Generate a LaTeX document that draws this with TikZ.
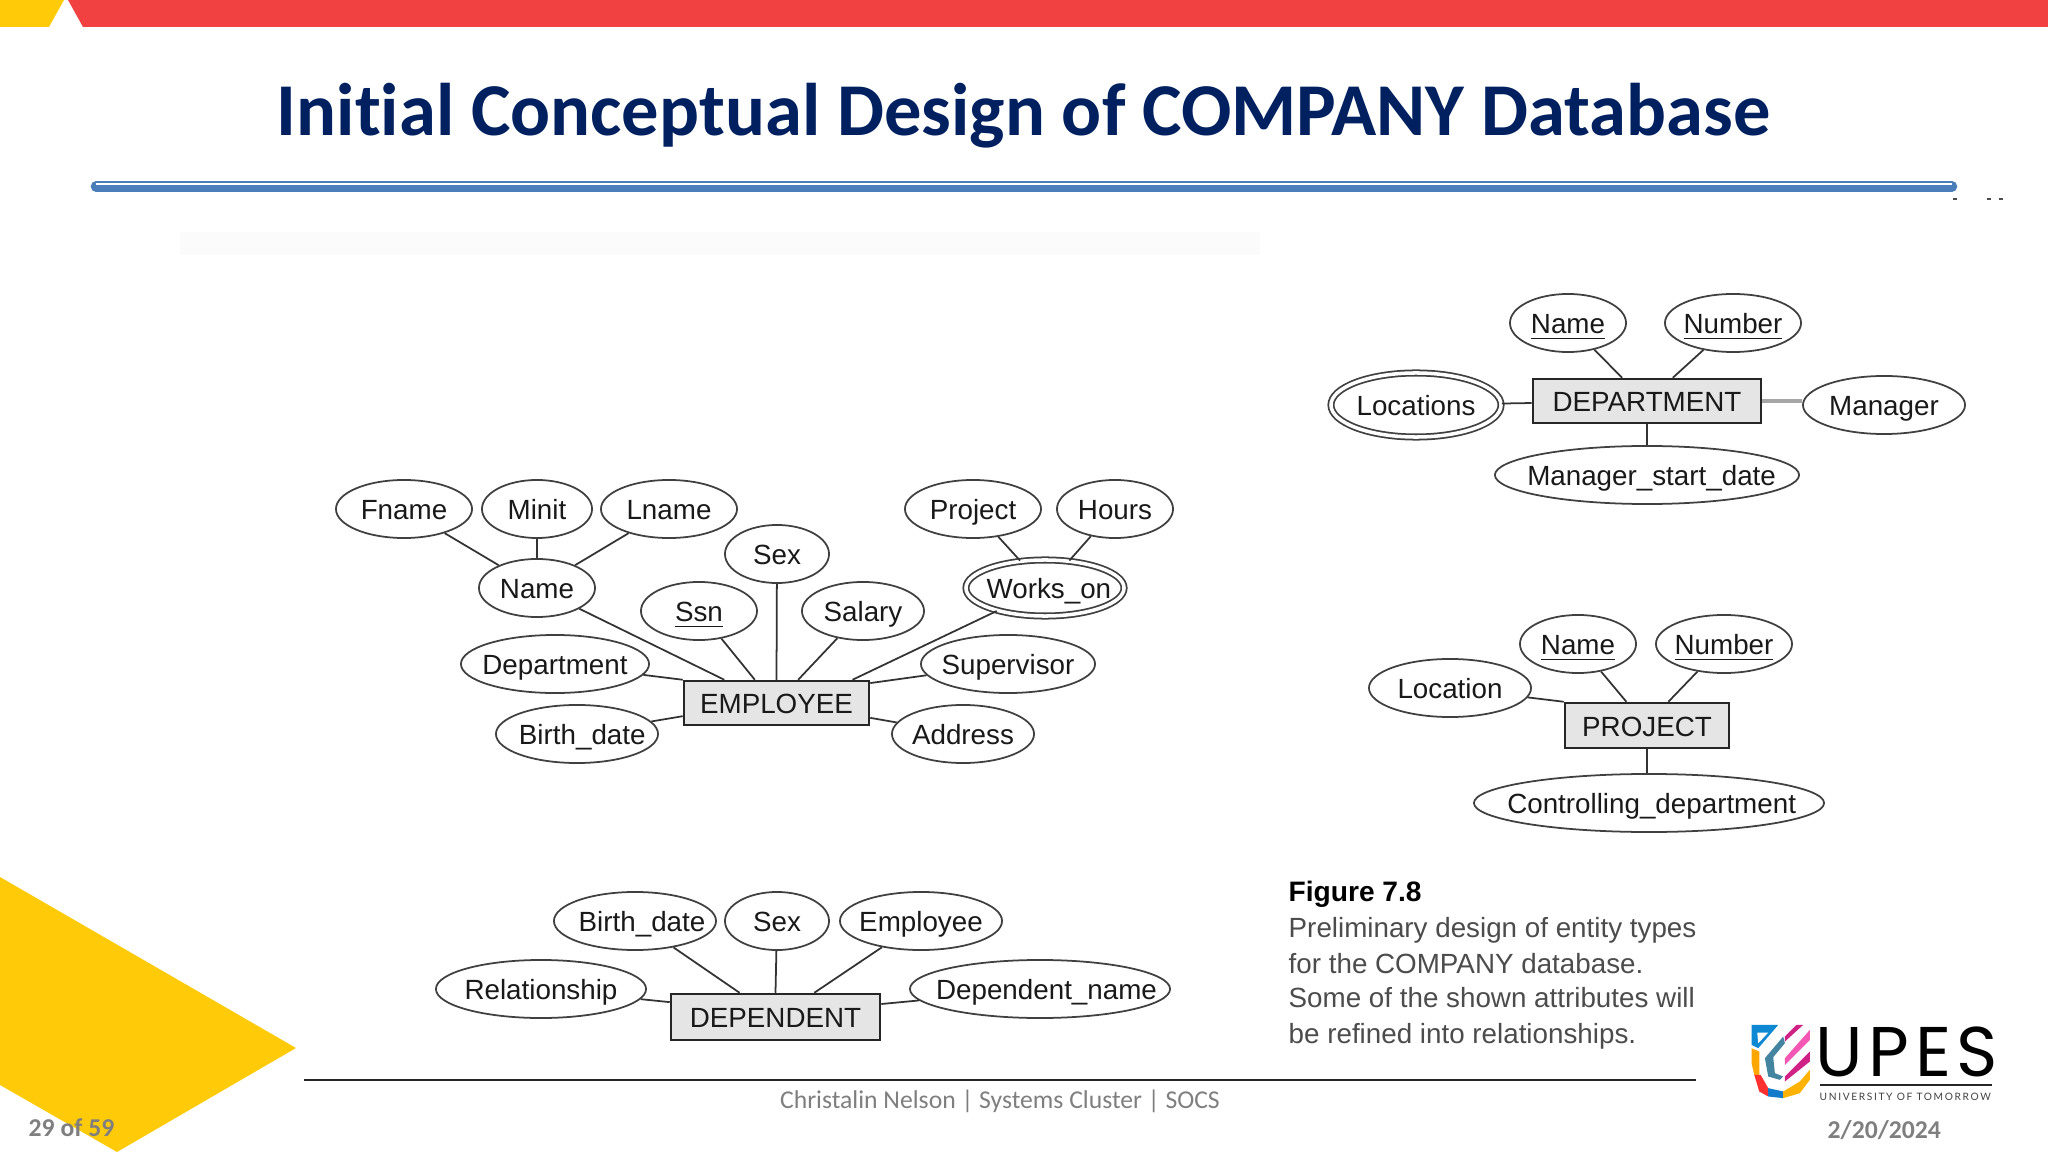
\documentclass[tikz,border=0pt]{standalone}
\usepackage{xcolor}
\usepackage{fontspec}
\usepackage{tikz}
\usetikzlibrary{shapes.geometric, positioning, calc}
\setmainfont{Liberation Sans}
\newfontfamily\carlitofont[Ligatures=CommonOff]{Carlito}
\newfontfamily\upesfont[LetterSpace=8]{Poppins}
\newfontfamily\tagfont[LetterSpace=16]{Lato}
\newcommand{\nowidth}[2][0pt]{\makebox[0pt]{\hspace{#1}#2}}
\definecolor{slidered}{RGB}{242, 65, 65}
\definecolor{slideyellow}{RGB}{255, 203, 8}
\definecolor{slidenavy}{RGB}{0, 32, 96}
\definecolor{ruleblue}{RGB}{74, 126, 187}
\definecolor{footgray}{RGB}{127, 127, 127}
\tikzset{
    attr/.style={ellipse, draw=black!75, fill=white, line width=0.5pt, inner sep=0pt, minimum height=0.58cm, text height=6pt, text depth=0pt, text=black!90, font=\fontsize{7.9}{9}\selectfont},
    multi/.style={attr, double, double distance=1pt},
    entity/.style={rectangle, draw=black!85, fill=black!10, line width=0.7pt, inner sep=0pt, text height=6pt, text depth=0pt, text=black!90, font=\fontsize{7.9}{9}\selectfont},
    link/.style={draw=black!80, line width=0.5pt},
    caption/.style={anchor=west, inner sep=0pt, text height=6pt, text depth=0pt, text=black!70, font=\fontsize{7.9}{9}\selectfont},
    foot/.style={inner sep=0pt, text=footgray}
}
\begin{document}
\begin{tikzpicture}[x=0.01cm, y=-0.01cm]
    \useasboundingbox (0,0) rectangle (2048,1152);
    \fill[white] (0,0) rectangle (2048,1152);

    % slide furniture
    \fill[slideyellow] (0,0) -- (64,0) -- (49,27) -- (0,27) -- cycle;
    \fill[slidered] (68,0) -- (2048,0) -- (2048,27) -- (83,27) -- cycle;
    \fill[slideyellow] (0,877) -- (296,1048) -- (117,1152) -- (0,1085) -- cycle;
    \fill[black!1.5] (180,232) rectangle (1260,255);
    \draw[ruleblue, line width=3pt, line cap=round] (96,186.5) -- (1952,186.5);
    \draw[white, line width=0.6pt] (96,184) -- (1952,184);
    \foreach \markx in {1955, 1989, 2001}
        \fill[black!70] (\markx-2,198) rectangle (\markx+2,200);
    \draw[black!85, line width=0.6pt] (304,1080) -- (1696,1080);

    \node (title) [inner sep=0pt, text=slidenavy, font=\carlitofont\bfseries\fontsize{21.2}{25}\selectfont] at (1023.5,115.5) {Initial Conceptual Design of COMPANY Database};
    \node (footer) [foot, font=\carlitofont\fontsize{7.3}{9}\selectfont] at (1000,1101) {Christalin Nelson | Systems Cluster | SOCS};
    \node (pageno) [foot, anchor=west, font=\carlitofont\bfseries\fontsize{7.3}{9}\selectfont] at (28,1128) {29 of 59};
    \node (slidedate) [foot, anchor=west, font=\carlitofont\bfseries\fontsize{7.3}{8}\selectfont] at (1827,1130) {2/20/2024};

    % EMPLOYEE
    \node (employee) [entity, minimum width=1.85cm, minimum height=0.44cm] at (776.5,703) {EMPLOYEE};
    \node (fname) [attr, minimum width=1.36cm] at (404,509) {\nowidth{Fname}};
    \node (minit) [attr, minimum width=1.10cm] at (537,509) {\nowidth{Minit}};
    \node (lname) [attr, minimum width=1.36cm] at (669,509) {\nowidth{Lname}};
    \node (ename) [attr, minimum width=1.16cm] at (537,588) {\nowidth{Name}};
    \node (esex) [attr, minimum width=1.04cm] at (777,554) {\nowidth{Sex}};
    \node (ssn) [attr, minimum width=1.16cm] at (699,611) {\nowidth{\underline{Ssn}}};
    \node (salary) [attr, minimum width=1.22cm] at (863,611) {\nowidth{Salary}};
    \node (eproject) [attr, minimum width=1.36cm] at (973,509) {\nowidth{Project}};
    \node (hours) [attr, minimum width=1.16cm] at (1115,509) {\nowidth{Hours}};
    \node (workson) [multi, minimum width=1.58cm, minimum height=0.56cm] at (1045,588) {\nowidth[2.2pt]{Works\_on}};
    \node (edept) [attr, minimum width=1.88cm] at (555,664) {\nowidth{Department}};
    \node (supervisor) [attr, minimum width=1.74cm] at (1008,664) {\nowidth{Supervisor}};
    \node (ebirth) [attr, minimum width=1.62cm] at (577,734) {\nowidth[3pt]{Birth\_date}};
    \node (address) [attr, minimum width=1.42cm] at (963,734) {\nowidth{Address}};

    \draw [link] (fname) -- (ename);
    \draw [link] (minit) -- (ename);
    \draw [link] (lname) -- (ename);
    \draw [link] (eproject) -- (workson);
    \draw [link] (hours) -- (workson);
    \draw [link] (ename) -- (employee.156);
    \draw [link] (ssn) -- (employee.133);
    \draw [link] (esex) -- (employee.90);
    \draw [link] (salary) -- (employee.47);
    \draw [link] (workson) -- (employee.17);
    \draw [link] (edept) -- (employee.north west);
    \draw [link] (supervisor) -- (employee.12);
    \draw [link] (ebirth) -- (employee.188);
    \draw [link] (address) -- (employee.-9);

    % DEPARTMENT
    \node (department) [entity, minimum width=2.28cm, minimum height=0.44cm] at (1647,401) {DEPARTMENT};
    \node (dname) [attr, minimum width=1.16cm] at (1568,323) {\nowidth{\underline{Name}}};
    \node (dnumber) [attr, minimum width=1.36cm] at (1733,323) {\nowidth{\underline{Number}}};
    \node (locations) [multi, minimum width=1.70cm, minimum height=0.64cm] at (1416,405) {\nowidth{Locations}};
    \node (manager) [attr, minimum width=1.62cm] at (1884,405) {\nowidth{Manager}};
    \node (startdate) [attr, minimum width=3.04cm] at (1647,475) {\nowidth[2.6pt]{Manager\_start\_date}};

    \draw [link] (dname) -- (department.137);
    \draw [link] (dnumber) -- (department.42);
    \draw [link] (locations) -- (department.181);
    \draw [link, draw=black!35, line width=0.9pt] (department.east) -- (department.east -| manager.west);
    \draw [link] (department) -- (startdate);

    % PROJECT
    \node (project) [entity, minimum width=1.64cm, minimum height=0.45cm] at (1647,725.5) {PROJECT};
    \node (pname) [attr, minimum width=1.16cm] at (1578,644) {\nowidth{\underline{Name}}};
    \node (pnumber) [attr, minimum width=1.36cm] at (1724,644) {\nowidth{\underline{Number}}};
    \node (location) [attr, minimum width=1.62cm] at (1450,688) {\nowidth{Location}};
    \node (controlling) [attr, minimum width=3.50cm] at (1649,803) {\nowidth[1.5pt]{Controlling\_department}};

    \draw [link] (pname) -- (project.131);
    \draw [link] (pnumber) -- (project.48);
    \draw [link] (location) -- (project.north west);
    \draw [link] (project.south) -- (project.south |- controlling.north);

    % DEPENDENT
    \node (dependent) [entity, minimum width=2.09cm, minimum height=0.46cm] at (775.5,1017) {DEPENDENT};
    \node (dbirth) [attr, minimum width=1.62cm] at (635,921) {\nowidth[4pt]{Birth\_date}};
    \node (dsex) [attr, minimum width=1.04cm] at (777,921) {\nowidth{Sex}};
    \node (employeeref) [attr, minimum width=1.62cm] at (921,921) {\nowidth{Employee}};
    \node (relationship) [attr, minimum width=2.10cm] at (541,989) {\nowidth{Relationship}};
    \node (dependentname) [attr, minimum width=2.60cm] at (1040,989) {\nowidth[3.7pt]{Dependent\_name}};

    \draw [link] (dbirth) -- (dependent.146);
    \draw [link] (dsex) -- (dependent.90);
    \draw [link] (employeeref) -- (dependent.32);
    \draw [link] (relationship) -- (dependent.172);
    \draw [link] (dependentname) -- (dependent.7);

    % caption
    \node (figlabel) [caption, text=black, font=\bfseries\fontsize{8}{9}\selectfont] at (1288,891) {Figure 7.8};
    \node (capa) [caption] at (1288,927) {Preliminary design of entity types};
    \node (capb) [caption] at (1288,963) {for the COMPANY database.};
    \node (capc) [caption] at (1288,997) {Some of the shown attributes will};
    \node (capd) [caption] at (1288,1033) {be refined into relationships.};

    % logo
    \begin{scope}[shift={(1700,980)}, x=0.00333cm, y=-0.00333cm]
        \fill[cyan!70!blue] (155,135) -- (235,135) -- (175,205) -- (155,195) -- cycle;
        \fill[white] (172,158) -- (205,158) -- (175,190) -- cycle;
        \fill[orange!70!yellow] (155,205) -- (178,215) -- (178,285) -- (163,285) -- (155,250) -- cycle;
        \fill[red!75!pink] (163,285) -- (182,285) -- (205,325) -- (205,350) -- (178,335) -- cycle;
        \fill[cyan!60!blue] (205,325) -- (250,335) -- (250,355) -- (205,350) -- cycle;
        \fill[orange!60!yellow] (250,335) -- (300,305) -- (330,270) -- (330,300) -- (300,340) -- (250,355) -- cycle;
        \fill[cyan!60!black] (195,235) -- (250,170) -- (255,190) -- (220,232) -- (225,280) -- (250,290) -- (240,300) -- (205,290) -- cycle;
        \fill[magenta!85!black] (255,170) -- (290,135) -- (310,135) -- (255,185) -- cycle;
        \fill[magenta!65] (255,235) -- (330,150) -- (330,180) -- (255,255) -- cycle;
        \fill[magenta!85!black] (255,290) -- (330,215) -- (330,245) -- (255,305) -- cycle;
    \end{scope}
    \node (upes) [inner sep=0pt, anchor=west, text height=15pt, text depth=0pt, text=black, font=\upesfont\fontsize{20}{22}\selectfont] at (1815,1050) {UPES};
    \draw[black!85, line width=0.5pt] (1820,1085) -- (1992,1085);
    \node (tagline) [inner sep=0pt, anchor=west, text height=2.2pt, text depth=0pt, text=black!75, font=\tagfont\fontsize{2.9}{4}\selectfont] at (1819,1097) {UNIVERSITY OF TOMORROW};
\end{tikzpicture}
\end{document}
